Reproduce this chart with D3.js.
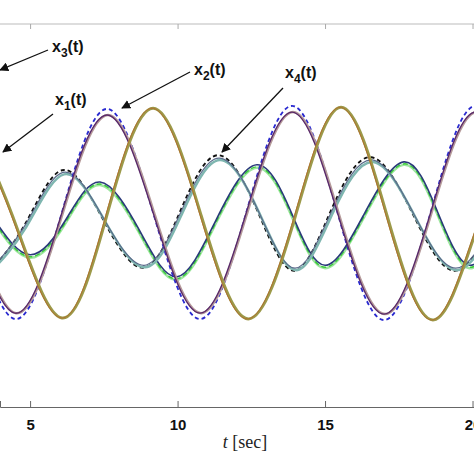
<!DOCTYPE html>
<html><head><meta charset="utf-8">
<script src="https://cdn.jsdelivr.net/npm/d3@7"></script>
<style>body{margin:0;background:#fff}</style></head>
<body><svg id="chart"></svg>
<script>
// values (t in sec, state value in arbitrary units)
const x3T = [2.8, 4.4, 6.08, 7.6, 9.17, 10.8, 12.4, 14.0, 15.54, 17.1, 18.69, 20.3, 21.9];
const x3V = [1.1, 0, -1.07, 0, 1.12, 0, -1.08, 0, 1.13, 0, -1.09, 0, 1.1];
const x2T = [1.3, 2.9, 4.49, 6.05, 7.61, 9.2, 10.76, 12.3, 13.88, 15.45, 17.0, 18.55, 20.1, 21.7];
const x2V = [1.05, 0, -1.02, 0, 1.05, 0, -1.02, 0, 1.08, 0, -1.03, 0, 1.08, 0];
const x4T = [3.5, 4.8, 6.08, 7.4, 8.83, 10.1, 11.37, 12.7, 13.95, 15.2, 16.56, 18.0, 19.4, 20.8];
const x4V = [-0.6, -0.1, 0.45, 0, -0.52, 0.05, 0.6, 0.05, -0.55, 0.05, 0.58, 0, -0.55, 0];
const x1T = [3.8, 5.0, 6.2, 7.37, 8.7, 9.98, 11.3, 12.69, 13.9, 15.0, 16.3, 17.67, 18.8, 19.9, 21.0];
const x1V = [-0.05, -0.41, -0.05, 0.35, -0.15, -0.64, -0.05, 0.53, 0, -0.52, 0, 0.56, 0.05, -0.52, 0];
const xTicks = [5, 10, 15, 20];
const labels = [
  {name: '3', tx: 52, ty: 52, from: [48, 50], to: [0, 70]},
  {name: '2', tx: 194, ty: 75, from: [190, 72], to: [122, 108]},
  {name: '1', tx: 55, ty: 105, from: [53, 114], to: [3, 152]},
  {name: '4', tx: 285, ty: 78, from: [283, 88], to: [222, 152]}
];

const W = 474, H = 474;
const svg = d3.select('#chart').attr('width', W).attr('height', H);
const x = d3.scaleLinear().domain([3.98, 20.05]).range([0, W]);
const y = d3.scaleLinear().domain([-2, 2]).range([407, 24]);

const zip = (ts, vs) => ts.map((t, i) => [t, vs[i]]);
const line = d3.line().x(d => x(d[0])).y(d => y(d[1])).curve(d3.curveNatural);

function draw(data, strokes) {
  strokes.forEach(s => {
    svg.append('path').datum(data)
      .attr('d', line)
      .attr('fill', 'none')
      .attr('stroke', s.c)
      .attr('stroke-width', s.w)
      .attr('stroke-dasharray', s.d || null)
      .attr('transform', `translate(${s.dx || 0},${s.dy || 0}) scale(1,${s.k || 1})`)
      .attr('transform-origin', `0 ${y(0)}`);
  });
}

draw(zip(x1T, x1V), [
  {c: '#9fe59f', w: 2.5, dy: 3},
  {c: '#3ccc3c', w: 1.5, d: '5,3', dy: 2},
  {c: '#2a3a7a', w: 1.6}
]);
draw(zip(x4T, x4V), [
  {c: '#111', w: 1.8, d: '4,3', k: 1.05},
  {c: '#7fb6b0', w: 2.5, dx: 2, dy: 2},
  {c: '#5a6a8a', w: 1.2, dx: 1}
]);
draw(zip(x2T, x2V), [
  {c: '#2a2ad0', w: 1.8, d: '4,3', k: 1.06},
  {c: '#b59a9a', w: 2.5, dx: 1},
  {c: '#5a2a6a', w: 1.4}
]);
draw(zip(x3T, x3V), [
  {c: '#9c9a4a', w: 3},
  {c: '#b0702e', w: 1, dx: -1}
]);

// frame and axes
svg.append('line').attr('x1', 0).attr('x2', W).attr('y1', 24).attr('y2', 24).attr('stroke', '#bbb');
const xAxis = svg.append('g').attr('transform', 'translate(0,407)')
  .call(d3.axisBottom(x).tickValues(xTicks).tickSize(-6).tickPadding(12));
xAxis.select('.domain').attr('stroke', '#666');
xAxis.selectAll('.tick line').attr('stroke', '#666');
xAxis.selectAll('text').attr('font-family', 'Liberation Sans, Arial').attr('font-size', 15)
  .attr('font-weight', 'bold').attr('fill', '#111');
const topAxis = svg.append('g').attr('transform', 'translate(0,24)')
  .call(d3.axisTop(x).tickValues(xTicks).tickSize(-5).tickFormat(''));
topAxis.select('.domain').remove();
topAxis.selectAll('.tick line').attr('stroke', '#aaa');

const xl = svg.append('text').attr('x', 245).attr('y', 448).attr('text-anchor', 'middle')
  .attr('font-family', 'Liberation Serif, serif').attr('font-size', 18).attr('fill', '#222');
xl.append('tspan').attr('font-style', 'italic').text('t');
xl.append('tspan').text('  [sec]');

// annotations
svg.append('defs').append('marker').attr('id', 'ah').attr('viewBox', '0 0 10 10')
  .attr('refX', 9).attr('refY', 5).attr('markerWidth', 7).attr('markerHeight', 7).attr('orient', 'auto')
  .append('path').attr('d', 'M0,0L10,5L0,10z').attr('fill', '#111');
labels.forEach(l => {
  svg.append('line').attr('x1', l.from[0]).attr('y1', l.from[1]).attr('x2', l.to[0]).attr('y2', l.to[1])
    .attr('stroke', '#111').attr('stroke-width', 1.3).attr('marker-end', 'url(#ah)');
  const t = svg.append('text').attr('x', l.tx).attr('y', l.ty)
    .attr('font-family', 'Liberation Sans, Arial').attr('font-weight', 'bold').attr('font-size', 16).attr('fill', '#111');
  t.append('tspan').text('x');
  t.append('tspan').attr('font-size', 12).attr('dy', 5).text(l.name);
  t.append('tspan').attr('dy', -5).text('(t)');
});
</script></body></html>
